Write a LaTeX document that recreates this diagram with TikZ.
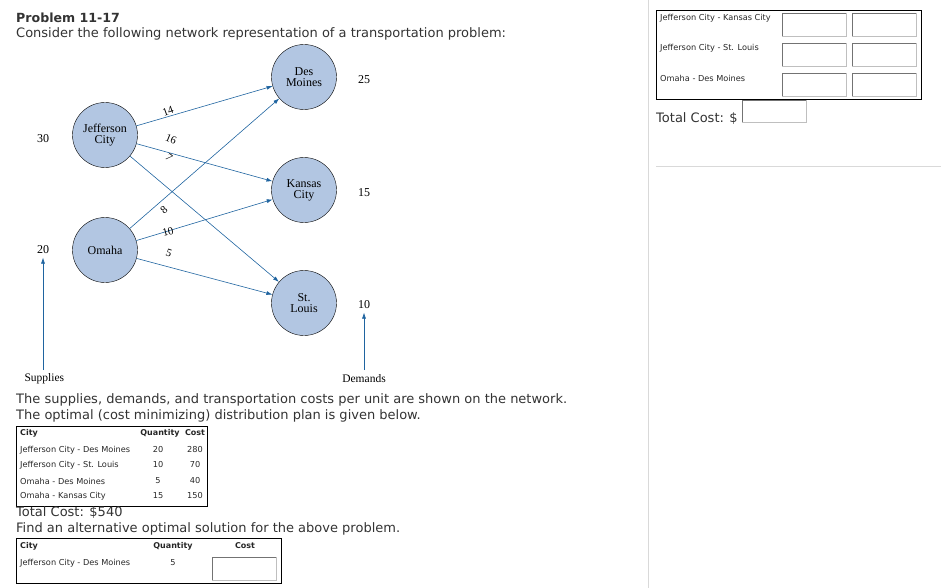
\documentclass[tikz,border=0pt]{standalone}
\usepackage{fontspec}
\setmainfont{DejaVu Sans}
\newfontfamily\tms{Liberation Serif}
\usetikzlibrary{arrows.meta}
\definecolor{arr}{RGB}{31,100,160}
\definecolor{nfill}{RGB}{178,198,226}
\tikzset{
 city/.style={circle,draw=black,fill=nfill,minimum size=65pt,inner sep=0pt,align=center,font=\tms\fontsize{12}{11}\selectfont},
 num/.style={font=\tms\fontsize{12}{12}\selectfont},
 lab/.style={font=\tms\fontsize{11}{11}\selectfont,inner sep=0.5pt},
 flow/.style={draw=arr,-{Latex[length=6pt,width=4pt]},line width=0.6pt},
 big/.style={font=\fontsize{13}{13}\selectfont,anchor=west,inner sep=0pt,text=black!80},
 sm/.style={font=\fontsize{8.2}{9}\selectfont,inner sep=0pt,text=black!85},
 smb/.style={sm,font=\bfseries\fontsize{8}{9}\selectfont},
 inbox/.style={draw=black!25,line width=0.6pt},
}
\begin{document}
\begin{tikzpicture}[x=1pt,y=-1pt]
\useasboundingbox (0,0) rectangle (941,588);
\node[big,font=\bfseries\fontsize{12.6}{13}\selectfont] (t1) at (16,18) {Problem 11-17};
\node[big] (t2) at (16,34) {Consider the following network representation of a transportation problem:};
% network
\node[city] (jc) at (105,135) {Jefferson\\City};
\node[city] (om) at (105,250) {Omaha};
\node[city] (dm) at (304,77) {Des\\Moines};
\node[city] (kc) at (304,190) {Kansas\\City};
\node[city] (sl) at (304,303) {St.\\Louis};
\node[num] (s1) at (43,139) {30};
\node[num] (s2) at (43,250) {20};
\node[num] (d1) at (364,80) {25};
\node[num] (d2) at (364,193) {15};
\node[num] (d3) at (364,305) {10};
\draw[flow] (jc) -- (dm);
\draw[flow] (jc) -- (kc);
\draw[flow] (jc) -- (sl);
\draw[flow] (om) -- (dm);
\draw[flow] (om) -- (kc);
\draw[flow] (om) -- (sl);
\node[lab,rotate=20] at (168,111) {14};
\node[lab,rotate=-22] at (171,139) {16};
\node[lab,rotate=-40] at (169,158) {7};
\node[lab,rotate=40] at (164,210) {8};
\node[lab,rotate=15] at (168,232) {10};
\node[lab,rotate=-20] at (169,253) {5};
\coordinate (a1) at (43,370);
\coordinate (a2) at (364,370);
\draw[flow] (a1) -- (s2);
\draw[flow] (a2) -- (d3);
\node[num,font=\tms\fontsize{11.5}{12}\selectfont,anchor=west] (sup) at (21,379) {Supplies};
\node[num,font=\tms\fontsize{11.5}{12}\selectfont] (dem) at (364,379) {Demands};
\node[big] (t3) at (16,400) {The supplies, demands, and transportation costs per unit are shown on the network.};
\node[big] (t4) at (16,416) {The optimal (cost minimizing) distribution plan is given below.};
% table 1
\draw[line width=0.8pt] (16,426) rectangle (207,506);
\node[smb,anchor=west] at (20,433) {City};
\node[smb] at (160,433) {Quantity};
\node[smb] at (195,433) {Cost};
\node[sm,anchor=west] at (20,450) {Jefferson City - Des Moines};
\node[sm] at (158,450) {20}; \node[sm] at (195,450) {280};
\node[sm,anchor=west] at (20,465) {Jefferson City - St. Louis};
\node[sm] at (158,465) {10}; \node[sm] at (195,465) {70};
\node[sm,anchor=west] at (20,481) {Omaha - Des Moines};
\node[sm] at (158,481) {5}; \node[sm] at (195,481) {40};
\node[sm,anchor=west] at (20,496) {Omaha - Kansas City};
\node[sm] at (158,496) {15}; \node[sm] at (195,496) {150};
\node[big] (t5) at (16,513) {Total Cost: \$540};
\node[big] (t6) at (16,529) {Find an alternative optimal solution for the above problem.};
% table 2
\draw[line width=0.8pt] (16,538) rectangle (281,583);
\node[smb,anchor=west] at (20,546) {City};
\node[smb] at (173,546) {Quantity};
\node[smb] at (245,546) {Cost};
\node[sm,anchor=west] at (20,563) {Jefferson City - Des Moines};
\node[sm] at (173,563) {5};
\draw[inbox] (212,557) rectangle (276,580);
\draw[black!55] (212,580) -- (212,557) -- (276,557);
% right table
\draw[black!15] (648,0) -- (648,588);
\draw[line width=0.8pt] (656,10) rectangle (921,99);
\node[sm,anchor=west] at (660,18) {Jefferson City - Kansas City};
\node[sm,anchor=west] at (660,48) {Jefferson City - St. Louis};
\node[sm,anchor=west] at (660,78) {Omaha - Des Moines};
\foreach \y in {13,43,73}{
 \foreach \x in {782,852}{
  \draw[inbox] (\x,\y) rectangle (\x+64,\y+23);
  \draw[black!55] (\x,\y+23) -- (\x,\y) -- (\x+64,\y);
 }
}
\node[big] (tc) at (656,119) {Total Cost: \$};
\draw[inbox] (742,100) rectangle (806,122);
\draw[black!55] (742,122) -- (742,100) -- (806,100);
\draw[black!15] (656,166) -- (941,166);
\end{tikzpicture}
\end{document}
